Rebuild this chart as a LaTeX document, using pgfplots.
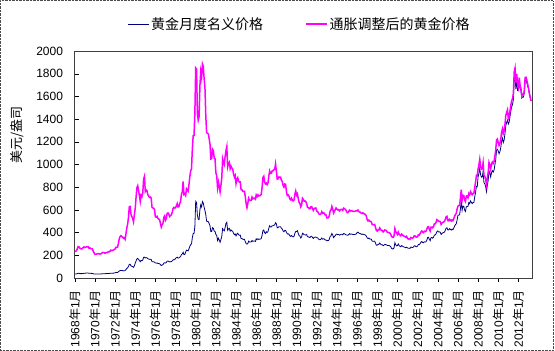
\documentclass[border=0pt]{standalone}
\usepackage{fontspec}
\setmainfont{Liberation Sans}
\newfontfamily\cjk{Noto Sans CJK SC}
\usepackage{pgfplots}
\pgfplotsset{compat=1.18}
\usepackage{pgfplotstable}
\definecolor{navy}{HTML}{000080}
\definecolor{mag}{HTML}{FF00FF}

% monthly values from Jan 1968: n = nominal, r = inflation adjusted
\pgfplotstableread[row sep=\\]{
n r\\
35.2 235\\ 35.2 235\\ 36.0 240\\ 38.0 254\\ 41.5 277\\ 41.2 275\\ 39.5 264\\ 38.7 259\\ 38.3 256\\ 38.8 259\\ 40.3 269\\ 41.0 274\\
42.3 268\\ 42.6 270\\ 43.4 275\\ 43.3 275\\ 43.5 276\\ 41.3 262\\ 42.0 266\\ 41.0 260\\ 40.8 259\\ 40.4 256\\ 37.4 237\\ 35.2 223\\
34.9 209\\ 34.9 209\\ 35.0 210\\ 35.7 214\\ 35.9 215\\ 35.4 212\\ 35.3 211\\ 35.4 212\\ 36.2 217\\ 37.5 225\\ 37.4 224\\ 37.4 224\\
37.9 218\\ 38.7 222\\ 38.9 223\\ 39.0 224\\ 40.5 232\\ 40.1 230\\ 41.0 235\\ 42.7 245\\ 42.0 241\\ 42.5 244\\ 42.9 246\\ 43.5 250\\
45.8 255\\ 48.3 269\\ 48.3 269\\ 49.0 272\\ 54.6 304\\ 62.1 345\\ 65.7 365\\ 67.0 373\\ 65.5 364\\ 64.9 361\\ 62.9 350\\ 63.9 355\\
65.1 341\\ 74.2 389\\ 84.4 442\\ 90.5 474\\ 102.0 534\\ 120.1 629\\ 120.2 630\\ 106.8 560\\ 103.0 540\\ 100.1 525\\ 94.4 495\\ 106.7 559\\
129.2 610\\ 150.2 709\\ 168.4 795\\ 172.2 813\\ 163.3 771\\ 154.1 727\\ 143.0 675\\ 154.6 730\\ 151.8 717\\ 158.8 750\\ 181.7 870\\ 183.9 895\\
176.3 762\\ 179.6 776\\ 178.2 770\\ 169.8 734\\ 167.4 723\\ 164.3 710\\ 165.1 713\\ 163.1 705\\ 144.2 623\\ 142.8 617\\ 142.4 615\\ 139.3 602\\
131.6 538\\ 131.2 537\\ 132.7 543\\ 128.4 525\\ 127.0 519\\ 125.7 514\\ 117.9 482\\ 109.6 448\\ 114.6 469\\ 117.0 479\\ 130.3 533\\ 133.8 547\\
132.3 508\\ 136.3 523\\ 148.3 569\\ 149.2 573\\ 146.7 563\\ 140.8 541\\ 143.4 551\\ 144.9 556\\ 150.1 576\\ 159.0 611\\ 162.0 622\\ 160.5 616\\
173.4 619\\ 178.2 636\\ 183.7 656\\ 175.3 626\\ 176.3 629\\ 183.8 656\\ 188.8 674\\ 206.1 736\\ 212.2 758\\ 227.4 850\\ 206.1 736\\ 207.8 742\\
227.3 727\\ 245.7 786\\ 242.1 775\\ 239.2 765\\ 257.6 824\\ 279.1 893\\ 294.7 943\\ 300.8 963\\ 355.2 1137\\ 391.7 1253\\ 392.5 1256\\ 455.1 1456\\
675.3 1850\\ 665.3 1840\\ 553.6 1450\\ 517.4 1390\\ 513.8 1420\\ 600.7 1694\\ 644.3 1817\\ 626.5 1767\\ 673.6 1886\\ 661.2 1865\\ 623.5 1758\\ 594.9 1678\\
557.4 1427\\ 500.0 1280\\ 498.8 1277\\ 495.8 1269\\ 479.7 1228\\ 460.8 1180\\ 409.3 1048\\ 410.5 1051\\ 443.3 1135\\ 437.8 1121\\ 413.4 1058\\ 410.1 1050\\
384.1 926\\ 374.2 902\\ 330.4 796\\ 350.6 845\\ 333.5 804\\ 314.9 759\\ 338.7 816\\ 364.8 879\\ 435.1 1049\\ 422.6 1018\\ 414.8 1000\\ 444.3 1071\\
481.1 1121\\ 491.0 1158\\ 419.7 978\\ 432.6 1008\\ 437.7 1020\\ 413.2 963\\ 422.8 985\\ 416.0 969\\ 411.5 959\\ 393.8 918\\ 381.7 889\\ 388.1 904\\
370.9 831\\ 386.8 866\\ 394.3 883\\ 381.3 854\\ 377.2 845\\ 377.9 846\\ 347.7 779\\ 347.7 779\\ 341.1 764\\ 340.2 762\\ 341.2 764\\ 320.2 717\\
303.0 654\\ 298.7 620\\ 304.0 657\\ 324.8 702\\ 316.6 684\\ 316.5 684\\ 317.3 685\\ 330.0 713\\ 323.2 698\\ 325.8 704\\ 325.5 703\\ 321.9 695\\
345.4 732\\ 338.9 718\\ 345.7 733\\ 340.4 722\\ 342.5 726\\ 342.8 727\\ 348.3 738\\ 376.6 798\\ 417.9 886\\ 423.0 897\\ 398.1 844\\ 391.3 830\\
408.3 837\\ 401.1 822\\ 408.9 838\\ 438.4 899\\ 460.1 943\\ 449.6 922\\ 450.5 924\\ 460.6 944\\ 460.3 944\\ 465.4 954\\ 466.8 957\\ 487.1 1005\\
477.1 940\\ 442.1 871\\ 443.6 874\\ 451.7 890\\ 451.3 889\\ 451.4 889\\ 437.2 861\\ 431.8 851\\ 413.8 815\\ 406.7 801\\ 420.2 828\\ 419.0 825\\
404.0 758\\ 387.8 727\\ 390.2 732\\ 384.4 721\\ 371.0 696\\ 367.6 689\\ 375.0 703\\ 365.4 685\\ 362.0 679\\ 366.7 688\\ 394.3 739\\ 409.0 767\\
410.1 730\\ 416.8 742\\ 393.1 700\\ 374.3 666\\ 369.1 657\\ 352.3 627\\ 361.2 643\\ 394.7 703\\ 389.3 693\\ 380.8 678\\ 381.4 679\\ 378.2 673\\
383.6 656\\ 363.8 622\\ 363.3 621\\ 358.4 613\\ 356.8 610\\ 366.7 627\\ 367.7 629\\ 356.5 610\\ 348.7 596\\ 358.7 613\\ 359.8 615\\ 361.0 617\\
354.5 588\\ 353.9 587\\ 344.3 572\\ 338.6 562\\ 337.2 560\\ 340.8 566\\ 352.7 585\\ 342.9 569\\ 345.4 573\\ 344.4 572\\ 335.0 556\\ 334.7 556\\
329.0 530\\ 329.4 530\\ 330.1 531\\ 342.2 551\\ 367.2 591\\ 371.9 599\\ 392.0 631\\ 379.8 611\\ 355.5 572\\ 364.2 586\\ 373.8 602\\ 383.3 617\\
386.9 607\\ 381.9 600\\ 384.1 603\\ 377.3 592\\ 381.4 599\\ 385.6 605\\ 385.5 605\\ 380.4 597\\ 391.6 615\\ 389.8 612\\ 384.4 604\\ 379.3 596\\
378.6 579\\ 376.5 576\\ 382.1 585\\ 391.0 598\\ 385.3 590\\ 387.6 593\\ 386.2 591\\ 383.7 587\\ 383.1 586\\ 383.1 586\\ 385.5 590\\ 387.4 593\\
399.5 591\\ 404.8 599\\ 396.2 586\\ 392.9 581\\ 391.9 580\\ 385.3 570\\ 383.5 568\\ 387.5 574\\ 383.1 567\\ 381.1 564\\ 377.9 559\\ 369.0 546\\
354.9 515\\ 346.6 503\\ 351.8 510\\ 344.5 500\\ 343.8 499\\ 340.8 494\\ 324.1 470\\ 323.9 470\\ 322.8 468\\ 324.9 471\\ 306.0 444\\ 288.7 419\\
289.1 413\\ 297.5 425\\ 295.9 423\\ 308.4 441\\ 299.1 428\\ 292.3 418\\ 292.9 419\\ 284.1 406\\ 289.0 413\\ 295.9 423\\ 294.1 421\\ 291.6 417\\
287.1 402\\ 287.3 402\\ 285.9 400\\ 282.6 396\\ 276.4 387\\ 261.3 366\\ 256.1 359\\ 256.7 359\\ 264.7 371\\ 310.7 435\\ 293.2 410\\ 283.1 396\\
284.3 384\\ 299.9 405\\ 286.4 387\\ 279.7 378\\ 275.2 372\\ 285.7 386\\ 281.6 380\\ 274.5 371\\ 273.7 369\\ 270.0 365\\ 266.0 359\\ 271.5 367\\
265.5 348\\ 261.9 343\\ 263.0 345\\ 260.5 341\\ 272.4 357\\ 270.2 354\\ 267.5 350\\ 272.4 357\\ 283.4 371\\ 283.1 371\\ 276.2 362\\ 275.9 361\\
281.7 363\\ 295.5 381\\ 294.0 379\\ 302.7 390\\ 314.5 406\\ 321.2 414\\ 313.3 404\\ 310.3 400\\ 319.2 412\\ 316.6 408\\ 319.2 412\\ 333.4 430\\
356.9 450\\ 359.0 452\\ 340.6 429\\ 328.2 414\\ 355.7 448\\ 356.4 449\\ 351.0 442\\ 359.8 453\\ 378.9 477\\ 378.9 477\\ 389.9 491\\ 407.6 514\\
414.0 509\\ 405.3 499\\ 406.7 500\\ 403.0 496\\ 383.8 472\\ 392.4 483\\ 398.1 490\\ 400.5 493\\ 405.3 499\\ 420.5 517\\ 439.4 540\\ 442.1 544\\
424.0 505\\ 423.4 504\\ 434.2 517\\ 429.2 511\\ 421.9 502\\ 430.7 513\\ 424.5 505\\ 437.9 521\\ 456.0 543\\ 469.9 559\\ 476.7 567\\ 510.1 607\\
549.9 632\\ 555.0 638\\ 557.1 641\\ 610.6 702\\ 675.4 777\\ 596.2 686\\ 633.7 729\\ 632.6 727\\ 598.2 688\\ 585.8 674\\ 627.8 722\\ 629.8 724\\
631.2 707\\ 664.8 745\\ 654.9 733\\ 679.4 761\\ 666.9 747\\ 655.5 734\\ 665.3 745\\ 665.4 745\\ 712.7 798\\ 754.6 845\\ 806.3 903\\ 803.2 900\\
889.6 961\\ 922.3 996\\ 968.4 1046\\ 909.7 982\\ 888.7 960\\ 889.5 961\\ 939.8 1015\\ 839.0 906\\ 829.9 896\\ 806.6 871\\ 760.9 822\\ 816.1 881\\
858.7 927\\ 943.2 1019\\ 924.3 998\\ 890.2 961\\ 928.6 1003\\ 945.7 1021\\ 934.2 1009\\ 949.4 1025\\ 996.6 1076\\ 1043.2 1127\\ 1127.0 1217\\ 1134.7 1225\\
1117.9 1192\\ 1095.4 1168\\ 1113.3 1187\\ 1148.7 1225\\ 1205.4 1285\\ 1232.9 1314\\ 1193.0 1272\\ 1215.8 1296\\ 1271.0 1355\\ 1342.0 1431\\ 1369.9 1460\\ 1390.6 1482\\
1356.4 1403\\ 1372.7 1419\\ 1424.0 1472\\ 1473.8 1524\\ 1510.4 1562\\ 1528.7 1581\\ 1572.8 1626\\ 1755.8 1815\\ 1771.9 1850\\ 1665.2 1722\\ 1738.9 1798\\ 1652.3 1708\\
1656.1 1678\\ 1742.6 1765\\ 1673.8 1696\\ 1650.1 1672\\ 1585.5 1606\\ 1596.7 1617\\ 1594.3 1615\\ 1630.3 1652\\ 1744.5 1767\\ 1746.6 1769\\ 1721.6 1744\\ 1688.5 1710\\
1671.9 1672\\ 1627.6 1628\\ 1593.1 1593\\ 1560.0 1560\\
}\gold

\newcommand{\yl}[1]{#1{\cjk 年}1{\cjk 月}}

\begin{document}
\begin{tikzpicture}
\useasboundingbox (-74.7pt,-73pt) rectangle (480.3pt,278pt);
\draw[densely dotted, black!70] (-74.2pt,-72.5pt) rectangle (478pt,277.5pt);
\begin{axis}[
  at={(0pt,0pt)}, anchor=south west,
  scale only axis, width=458pt, height=227pt,
  xmin=0, xmax=545, ymin=0, ymax=2000,
  xtick={0,24,...,528},
  xticklabels={\yl{1968},\yl{1970},\yl{1972},\yl{1974},\yl{1976},\yl{1978},\yl{1980},\yl{1982},\yl{1984},\yl{1986},\yl{1988},\yl{1990},\yl{1992},\yl{1994},\yl{1996},\yl{1998},\yl{2000},\yl{2002},\yl{2004},\yl{2006},\yl{2008},\yl{2010},\yl{2012}},
  ytick={0,200,...,2000},
  tick pos=left,
  tick align=inside,
  major tick length=4pt,
  xtick style={yshift=-4pt, black},
  ytick style={black},
  axis line style={black!75},
  xticklabel style={rotate=90, anchor=east, inner sep=0pt, font=\fontsize{12}{12}\selectfont},
  xticklabel shift=12pt,
  yticklabel style={anchor=east, inner sep=0pt, font=\fontsize{12}{12}\selectfont},
  yticklabel shift=11.5pt,
  /pgf/number format/assume math mode=true,
  /pgf/number format/1000 sep={},
  ylabel={\cjk 美元/盎司},
  ylabel style={at={(axis description cs:-0.126,0.63)}, anchor=center, font=\fontsize{13}{13}\selectfont},
  legend style={draw=none, fill=none, at={(0.491,1.119)}, anchor=center, legend columns=2,
    font=\cjk\fontsize{14}{14}\selectfont,
    /tikz/every even column/.append style={column sep=40pt}},
  legend image code/.code={\draw[#1] (0pt,0pt) -- (21pt,0pt);},
]
\addplot[navy, line width=0.8pt] table[x expr=\coordindex, y=n] {\gold};
\addlegendentry{黄金月度名义价格}
\addplot[mag, line width=1.5pt] table[x expr=\coordindex, y=r] {\gold};
\addlegendentry{通胀调整后的黄金价格}
\end{axis}
\end{tikzpicture}
\end{document}
